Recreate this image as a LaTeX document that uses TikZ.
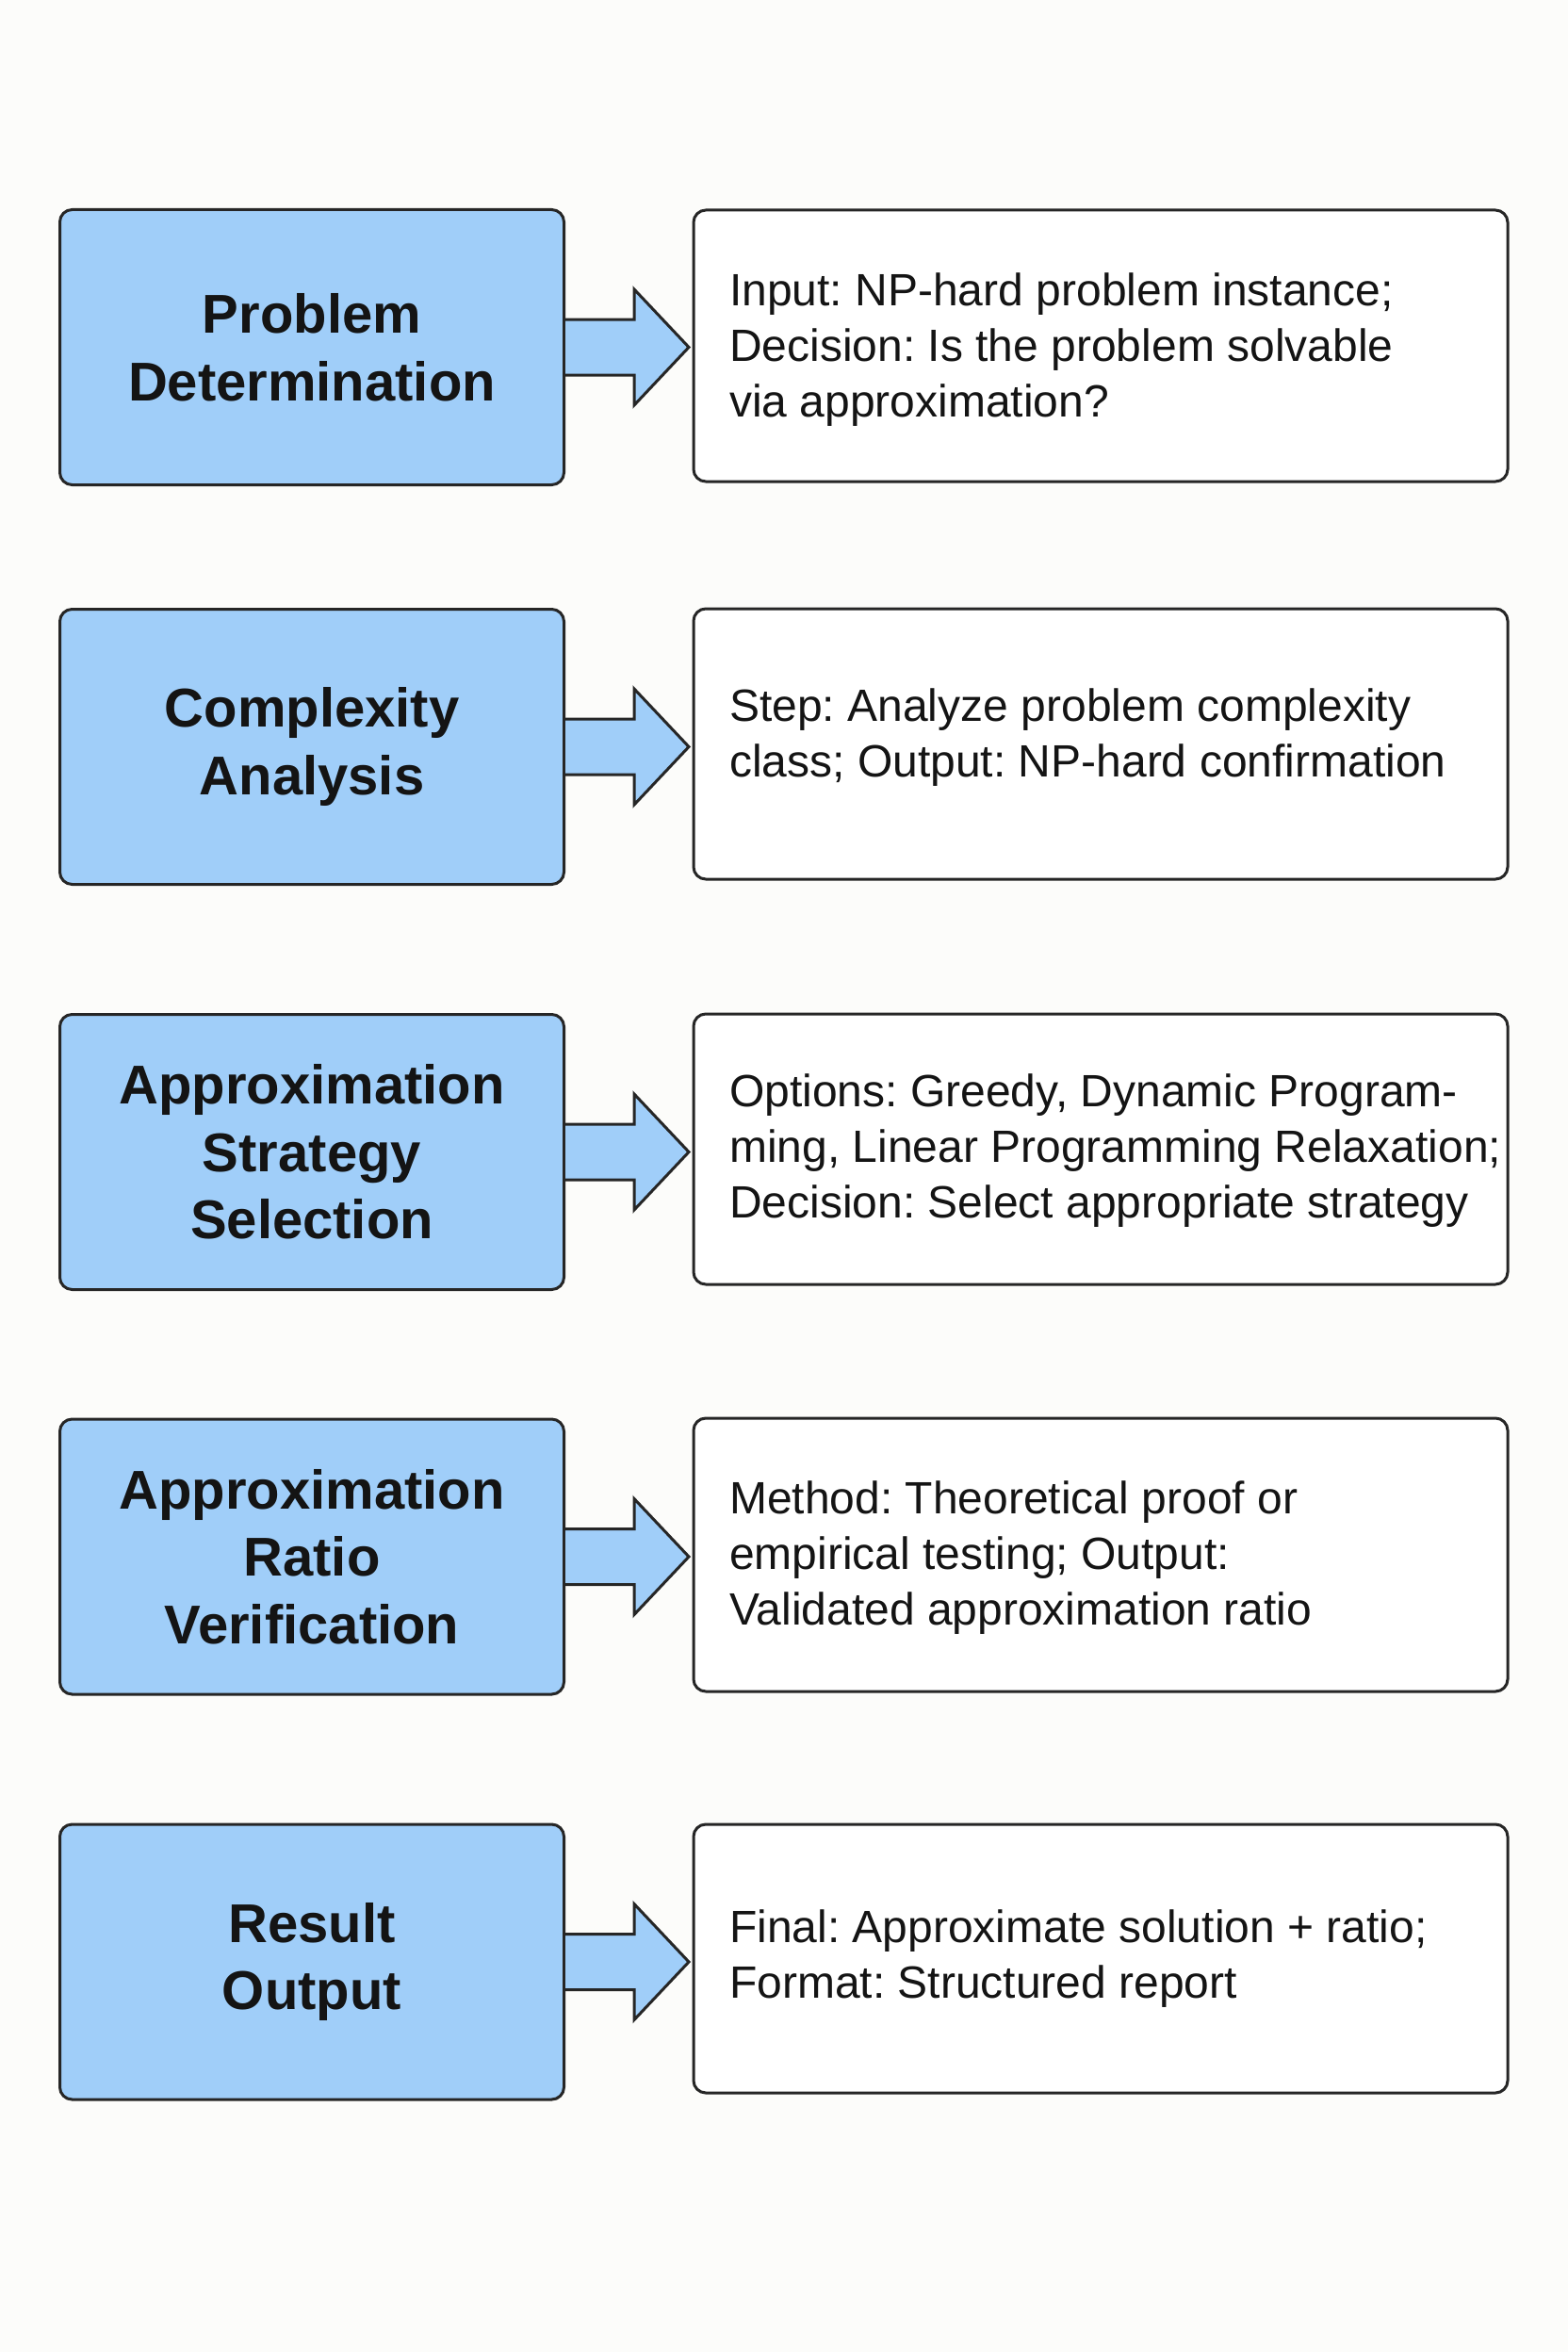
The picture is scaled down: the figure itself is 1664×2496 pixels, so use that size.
\documentclass[tikz,border=0pt]{standalone}
\usepackage{fontspec}
\setmainfont{Liberation Sans}
\frenchspacing
\begin{document}
\begin{tikzpicture}[x=1pt,y=-1pt,
  stagebox/.style={draw=black!85,line width=3pt,rounded corners=13pt,fill=stageblue,minimum width=535pt,minimum height=292pt,inner sep=0pt,
    font=\fontsize{58}{71.6}\selectfont\bfseries,align=center,text=black!92},
  infobox/.style={draw=black!85,line width=3pt,rounded corners=13pt,fill=white,minimum width=864pt,inner sep=0pt},
  infotext/.style={anchor=west,align=left,inner sep=0pt,font=\fontsize{48}{59}\selectfont,text=black!92},
  blockarrow/.style={fill=stageblue,draw=black!85,line width=3pt,line join=miter}
]
\definecolor{stageblue}{RGB}{160,206,249}
\definecolor{bgcol}{RGB}{252,252,250}
\fill[bgcol] (0,0) rectangle (1664,2496);
\useasboundingbox (0,0) rectangle (1664,2496);

% left stage boxes
\node[stagebox] (s1) at (331,368.5) {\raisebox{3pt}{}Problem\\Determination};
\node[stagebox] (s2) at (331,792.5) {Complexity\\Analysis};
\node[stagebox] (s3) at (331,1222.5) {Approximation\\Strategy\\Selection};
\node[stagebox] (s4) at (331,1652) {Approximation\\Ratio\\Verification};
\node[stagebox] (s5) at (331,2082) {Result\\Output};

% right info boxes
\node[infobox,minimum height=288pt] (i1) at (1168,367) {};
\node[infobox,minimum height=287pt] (i2) at (1168,789.5) {};
\node[infobox,minimum height=287pt] (i3) at (1168,1219.5) {};
\node[infobox,minimum height=290pt] (i4) at (1168,1650) {};
\node[infobox,minimum height=285pt] (i5) at (1168,2078.5) {};

% texts
\node[infotext] (t1) at (774,371) {Input: NP-hard problem instance;\\Decision: Is the problem solvable\\via approximation?};
\node[infotext] (t2) at (774,783) {Step: Analyze problem complexity\\class; Output: NP-hard confirmation};
\node[infotext] (t3) at (774,1221) {Options: Greedy, Dynamic Program-\\ming, Linear Programming Relaxation;\\Decision: Select appropriate strategy};
\node[infotext] (t4) at (774,1653) {Method: Theoretical proof or\\empirical testing; Output:\\Validated approximation ratio};
\node[infotext] (t5) at (774,2079) {Final: Approximate solution + ratio;\\Format: Structured report};

% block arrows
\foreach \k in {1,...,5}{
  \path (s\k.east) coordinate (a\k);
  \path (i\k.west |- s\k.east) coordinate (b\k);
  \filldraw[blockarrow]
    ([yshift=29.5pt]a\k) -- ([xshift=73pt,yshift=29.5pt]a\k) -- ([xshift=73pt,yshift=61.5pt]a\k)
    -- ([xshift=-3.5pt]b\k)
    -- ([xshift=73pt,yshift=-61.5pt]a\k) -- ([xshift=73pt,yshift=-29.5pt]a\k) -- ([yshift=-29.5pt]a\k);
}
\end{tikzpicture}
\end{document}
